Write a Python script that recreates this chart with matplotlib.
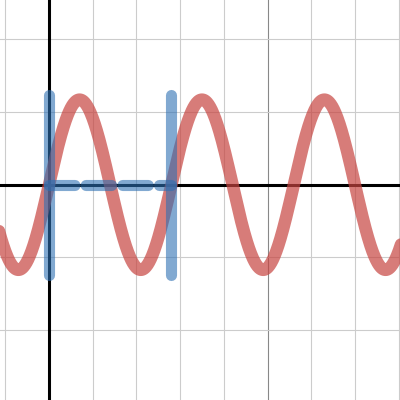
import numpy as np
import matplotlib.pyplot as plt

# wave parameters (grid units)
period = 2.8
amplitude = 1.17
x_wave = np.linspace(-1.2, 8.1, 800)
y_wave = amplitude * np.sin(2 * np.pi * x_wave / period)

# blue markers: one period span
marker_x = [0.0, period]
marker_half_height = 1.24

fig = plt.figure(figsize=(4, 4), dpi=100)
ax = fig.add_axes([0, 0, 1, 1])
ax.set_xlim(-1.12, 8.03)
ax.set_ylim(-2.96, 2.54)

# grid
for gx in np.arange(-1, 9):
    ax.axvline(gx, color='#888888' if gx % 5 == 0 else '#cccccc', lw=0.8, zorder=0)
for gy in np.arange(-3, 3):
    ax.axhline(gy, color='#cccccc', lw=0.8, zorder=0)
ax.axhline(0, color='black', lw=2.2, zorder=1)
ax.axvline(0, color='black', lw=2.2, zorder=1)

ax.plot(x_wave, y_wave, color='#c74440', lw=9, alpha=0.7, solid_capstyle='round', zorder=2)
for mx in marker_x:
    ax.plot([mx, mx], [-marker_half_height, marker_half_height], color='#2d70b3',
            lw=8, alpha=0.6, solid_capstyle='round', zorder=3)
ax.plot([0, period], [0, 0], color='#2d70b3', lw=8, alpha=0.6,
        linestyle=(0, (2.3, 1.0)), dash_capstyle='round', zorder=3)

ax.axis('off')
fig.savefig('out.png', dpi=100)
